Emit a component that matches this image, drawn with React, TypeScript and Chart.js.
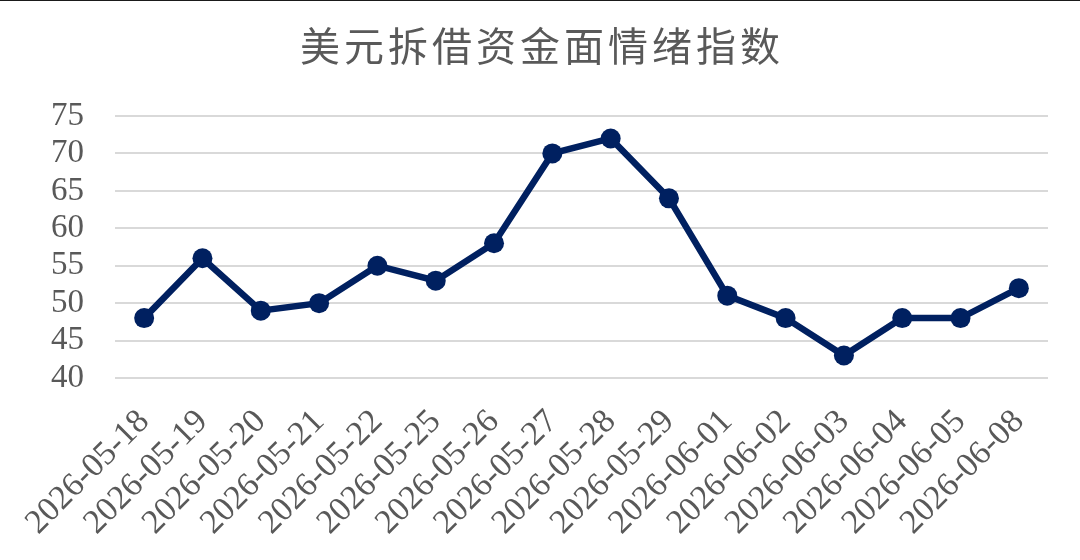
import React, { useEffect, useRef } from "react";
import { Chart, registerables } from "chart.js";

Chart.register(...registerables);

const TITLE = "美元拆借资金面情绪指数";
const categories = [
  "2026-05-18", "2026-05-19", "2026-05-20", "2026-05-21", "2026-05-22",
  "2026-05-25", "2026-05-26", "2026-05-27", "2026-05-28", "2026-05-29",
  "2026-06-01", "2026-06-02", "2026-06-03", "2026-06-04", "2026-06-05",
  "2026-06-08",
];
const values = [48, 56, 49, 50, 55, 53, 58, 70, 72, 64, 51, 48, 43, 48, 48, 52];
const yMin = 40;
const yMax = 75;
const yStep = 5;

const titlePlugin = {
  id: "customTitle",
  afterDraw(chart: any) {
    const ctx = chart.ctx;
    ctx.save();
    ctx.fillStyle = "#1a1a1a";
    ctx.fillRect(0, 0, chart.width, 1);
    ctx.font = '40px "Noto Sans CJK SC"';
    ctx.fillStyle = "#595959";
    ctx.textAlign = "center";
    ctx.textBaseline = "middle";
    try { (ctx as any).letterSpacing = "4px"; } catch (e) {}
    ctx.fillText(TITLE, chart.width / 2 + 2, 46);
    ctx.restore();
  },
};

export default function App() {
  const ref = useRef<HTMLCanvasElement | null>(null);
  useEffect(() => {
    document.body.style.margin = "0";
    const chart = new Chart(ref.current as HTMLCanvasElement, {
      type: "line",
      data: {
        labels: categories,
        datasets: [
          {
            data: values,
            borderColor: "#002060",
            backgroundColor: "#002060",
            borderWidth: 6.5,
            pointRadius: 10,
            pointHoverRadius: 10,
            pointBorderWidth: 0,
            pointBackgroundColor: "#002060",
            pointBorderColor: "#002060",
            tension: 0,
          },
        ],
      },
      plugins: [titlePlugin],
      options: {
        animation: false,
        responsive: false,
        maintainAspectRatio: false,
        layout: { padding: { left: 0, right: 32, top: 116, bottom: 0 } },
        plugins: { legend: { display: false }, title: { display: false }, tooltip: { enabled: false } },
        scales: {
          x: {
            offset: true,
            grid: { display: false, drawTicks: false },
            border: { display: false },
            ticks: {
              autoSkip: false,
              maxRotation: 45,
              minRotation: 45,
              padding: 24,
              color: "#595959",
              font: { family: '"Liberation Serif"', size: 34 },
            },
            afterFit(scale: any) { scale.height = 182; },
          },
          y: {
            min: yMin,
            max: yMax,
            grid: { color: "#d9d9d9", lineWidth: 2, drawTicks: false },
            border: { display: false },
            ticks: {
              stepSize: yStep,
              autoSkip: false,
              padding: 31,
              color: "#595959",
              font: { family: '"Liberation Serif"', size: 33, lineHeight: 1 },
            },
            afterFit(scale: any) { scale.width = 115; },
          },
        },
      },
    });
    return () => chart.destroy();
  }, []);
  return (
    <div style={{ width: 1080, height: 560, background: "#fff" }}>
      <canvas ref={ref} width={1080} height={560} style={{ width: 1080, height: 560, display: "block" }} />
    </div>
  );
}
